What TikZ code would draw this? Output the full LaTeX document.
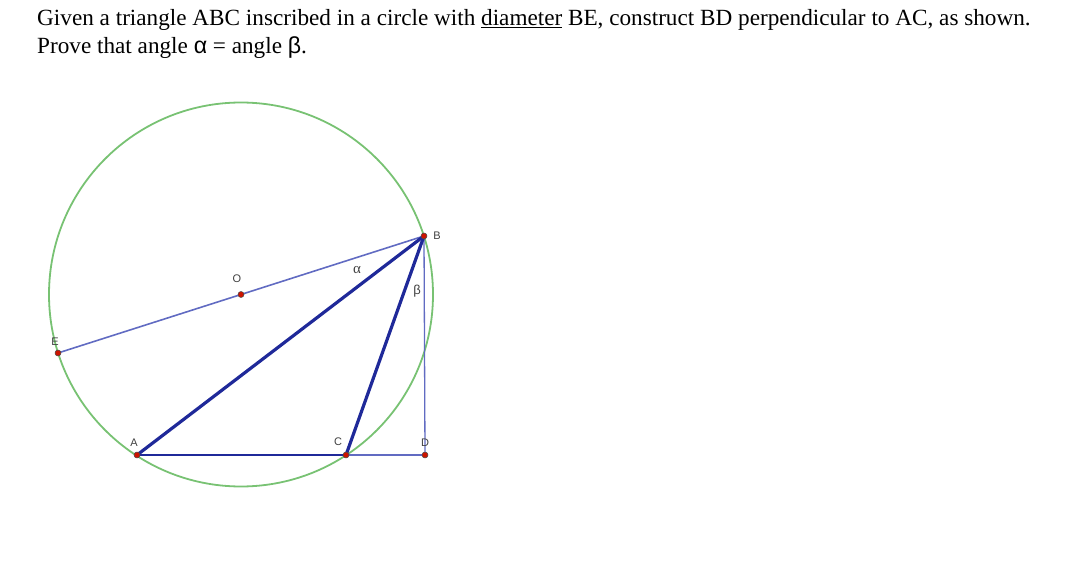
\documentclass[tikz,border=0pt]{standalone}
\usepackage{fontspec}
\setmainfont{Liberation Serif}
\newfontfamily\lblfont{Liberation Sans}
\newlength{\du}
\setlength{\du}{1pt}
\definecolor{circlegreen}{rgb}{0.470000, 0.760000, 0.450000}
\definecolor{sidecolor}{rgb}{0.120000, 0.160000, 0.600000}
\definecolor{auxcolor}{rgb}{0.380000, 0.420000, 0.760000}
\definecolor{labelcolor}{rgb}{0.250000, 0.250000, 0.250000}
\definecolor{dotcolor}{rgb}{0.800000, 0.080000, 0.000000}
\tikzset{
  ptdot/.style={circle, fill=dotcolor, draw=black!70, line width=0.5\du, inner sep=0pt, minimum size=6\du},
  ptlabel/.style={text=labelcolor, font=\lblfont\fontsize{11}{13}\selectfont, inner sep=0pt},
  thickside/.style={draw=sidecolor, line width=3.2\du},
  thinside/.style={draw=sidecolor, line width=2.4\du},
  auxline/.style={draw=auxcolor, line width=1.6\du},
}
\begin{document}
\begin{tikzpicture}
\pgftransformxscale{1.000000}
\pgftransformyscale{-1.000000}
\useasboundingbox (0\du,0\du) rectangle (1090\du,569\du);
% statement
\node[anchor=base west, inner sep=0pt, font=\fontsize{23.2}{28}\selectfont] (line1) at (37\du,26\du)
  {Given a triangle ABC inscribed in a circle with \underline{diameter} BE, construct BD perpendicular to AC, as shown.};
\node[anchor=base west, inner sep=0pt, font=\fontsize{23.2}{28}\selectfont] (line2) at (37\du,54\du)
  {Prove that angle {\lblfont α} = angle {\lblfont β}.};
% points
\coordinate (O) at (241\du,294.5\du);
\coordinate (B) at (424\du,236\du);
\coordinate (E) at (58\du,353\du);
\coordinate (A) at (137\du,455\du);
\coordinate (C) at (346\du,455\du);
\coordinate (D) at (425\du,455\du);
% circle
\draw[circlegreen, line width=1.8\du] (O) circle (192\du);
% segments
\draw[auxline] (E) -- (B);
\draw[auxcolor, line width=1.3\du] (B) -- (D);
\draw[auxcolor, line width=1.3\du] (C) -- (D);
\draw[thinside] (A) -- (C);
\draw[thickside] (A) -- (B);
\draw[thickside] (C) -- (B);
% dots
\foreach \p in {O,B,E,A,C,D} {
  \node[ptdot] at (\p) {};
}
% labels
\node[ptlabel] (labB) at (437\du,236\du) {B};
\node[ptlabel] (labO) at (237\du,279\du) {O};
\node[ptlabel] (labE) at (55\du,342\du) {E};
\node[ptlabel] (labA) at (134\du,443\du) {A};
\node[ptlabel] (labC) at (338\du,442\du) {C};
\node[ptlabel] (labD) at (425\du,443\du) {D};
\node[ptlabel, font=\rmfamily\fontsize{15}{16}\selectfont] (alpha) at (357\du,270\du) {α};
\node[ptlabel, font=\lblfont\fontsize{13}{14}\selectfont] (beta) at (417\du,291\du) {β};
\end{tikzpicture}
\end{document}
